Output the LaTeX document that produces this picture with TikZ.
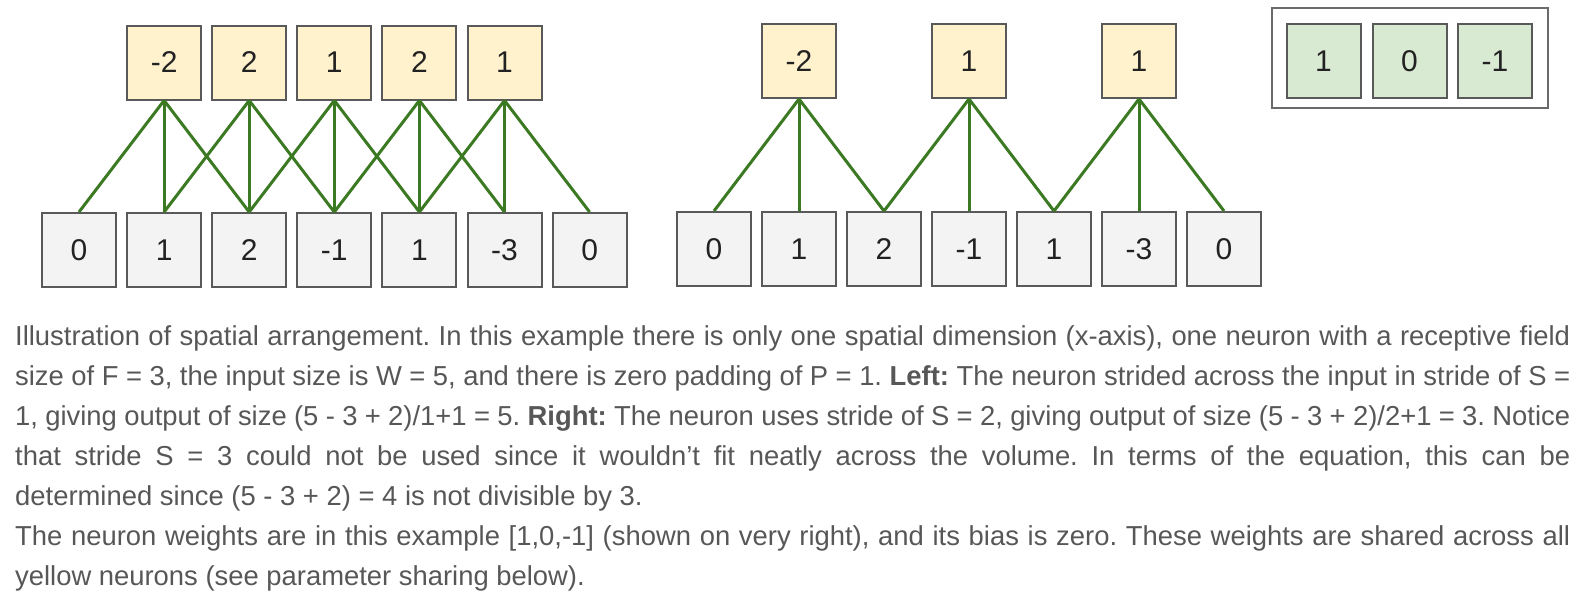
\documentclass[tikz,border=0pt]{standalone}
\usepackage{fontspec}
\setmainfont{Liberation Sans}
\definecolor{boxline}{HTML}{595959}
\definecolor{yfill}{HTML}{FFF2CC}
\definecolor{gfill}{HTML}{F3F3F3}
\definecolor{wfill}{HTML}{D9EAD3}
\definecolor{conn}{HTML}{3B7A22}
\definecolor{captxt}{HTML}{575757}
\definecolor{digit}{HTML}{222222}
\frenchspacing
\newcommand\jline[1]{\hbox to 1555pt{\spaceskip=0.278em plus 2em minus 0.08em\relax #1}}
\tikzset{
  cell/.style={draw=boxline, line width=2pt, minimum width=74pt, minimum height=74pt, inner sep=0pt,
    font=\fontsize{30}{30}\selectfont, text=digit},
  outcell/.style={cell, fill=yfill},
  incell/.style={cell, fill=gfill},
  wcell/.style={cell, fill=wfill},
  wframe/.style={draw=boxline!90, line width=2.5pt, fill=white, minimum width=276pt, minimum height=100pt, inner sep=0pt},
  link/.style={draw=conn, line width=3pt},
  capline/.style={anchor=base west, inner sep=0pt, text=captxt, font=\fontsize{27.4}{40}\selectfont}
}
\begin{document}
\begin{tikzpicture}[x=1pt,y=-1pt]
\useasboundingbox (0,0) rectangle (1578,598);
% left diagram
\foreach \v [count=\i] in {0,1,2,-1,1,-3,0}
  \node[incell] (Lin\i) at ({79+85.1*(\i-1)},250) {\v};
\foreach \v [count=\i] in {-2,2,1,2,1}
  \node[outcell] (Lout\i) at ({79+85.1*\i},62.5) {\v};
\foreach \i in {1,...,5}{
  \pgfmathtruncatemacro{\a}{\i}
  \pgfmathtruncatemacro{\b}{\i+1}
  \pgfmathtruncatemacro{\c}{\i+2}
  \draw[link] (Lout\i.south) -- (Lin\a.north);
  \draw[link] (Lout\i.south) -- (Lin\b.north);
  \draw[link] (Lout\i.south) -- (Lin\c.north);
}
% right diagram
\foreach \v [count=\i] in {0,1,2,-1,1,-3,0}
  \node[incell] (Rin\i) at ({714+85*(\i-1)},249) {\v};
\foreach \v [count=\i] in {-2,1,1}
  \node[outcell] (Rout\i) at ({714+170*\i-85},61) {\v};
\foreach \i in {1,2,3}{
  \pgfmathtruncatemacro{\a}{2*\i-1}
  \pgfmathtruncatemacro{\b}{2*\i}
  \pgfmathtruncatemacro{\c}{2*\i+1}
  \draw[link] (Rout\i.south) -- (Rin\a.north);
  \draw[link] (Rout\i.south) -- (Rin\b.north);
  \draw[link] (Rout\i.south) -- (Rin\c.north);
}
% weights
\node[wframe] (wbox) at (1410,58) {};
\node[wcell] (w1) at (1323.5,61) {1};
\node[wcell] (w2) at (1409.5,61) {0};
\node[wcell] (w3) at (1495,61) {-1};
% caption
\node[capline] (t1) at (15,345) {\jline{Illustration of spatial arrangement. In this example there is only one spatial dimension (x-axis), one neuron with a receptive field}};
\node[capline] (t2) at (15,385) {\jline{size of F = 3, the input size is W = 5, and there is zero padding of P = 1. \textbf{Left:} The neuron strided across the input in stride of S =}};
\node[capline] (t3) at (15,425) {\jline{1, giving output of size (5 - 3 + 2)/1+1 = 5. \textbf{Right:} The neuron uses stride of S = 2, giving output of size (5 - 3 + 2)/2+1 = 3. Notice}};
\node[capline] (t4) at (15,465) {\jline{that stride S = 3 could not be used since it wouldn't fit neatly across the volume. In terms of the equation, this can be}};
\node[capline] (t5) at (15,505) {determined since (5 - 3 + 2) = 4 is not divisible by 3.};
\node[capline] (t6) at (15,545) {\jline{The neuron weights are in this example [1,0,-1] (shown on very right), and its bias is zero. These weights are shared across all}};
\node[capline] (t7) at (15,585) {yellow neurons (see parameter sharing below).};
\end{tikzpicture}
\end{document}
